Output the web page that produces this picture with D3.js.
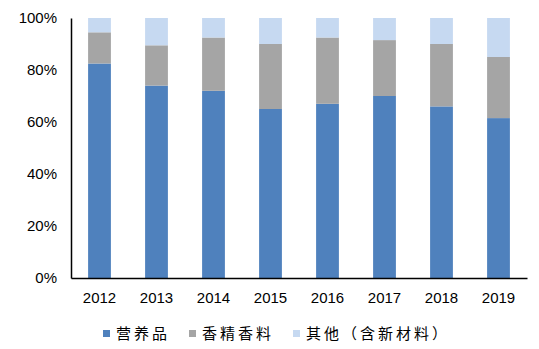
<!DOCTYPE html>
<html>
<head>
<meta charset="utf-8">
<script src="https://cdn.jsdelivr.net/npm/d3@7"></script>
<style>
  body { margin: 0; background: #fff; }
  svg { display: block; }
  .tick text { font-family: Arial, "Liberation Sans", sans-serif; font-size: 15px; fill: #000; }
  .legend text { font-family: "Noto Sans CJK SC", serif; font-size: 15px; fill: #000; letter-spacing: 3px; }
</style>
</head>
<body>
<svg id="chart" width="539" height="349"></svg>
<script>
// data (percent share per year)
const years = ["2012", "2013", "2014", "2015", "2016", "2017", "2018", "2019"];
const nutrition = [82.5, 74, 72, 65, 67, 70, 66, 61.5];
const flavors = [12, 15.5, 20.5, 25, 25.5, 21.5, 24, 23.5];
const others = [5.5, 10.5, 7.5, 10, 7.5, 8.5, 10, 15];
const seriesNames = ["营养品", "香精香料", "其他（含新材料）"];
const yTicks = [0, 20, 40, 60, 80, 100];

const colors = ["#4f81bd", "#a5a5a5", "#c6d9f1"];

const svg = d3.select("#chart");
const margin = { top: 18, right: 12, bottom: 71, left: 71 };
const width = 539 - margin.left - margin.right;
const height = 349 - margin.top - margin.bottom;

const g = svg.append("g")
  .attr("transform", `translate(${margin.left},${margin.top})`);

const rows = years.map((y, i) => ({
  year: y,
  a: nutrition[i],
  b: flavors[i],
  c: others[i]
}));

const stack = d3.stack().keys(["a", "b", "c"]);
const layers = stack(rows);

const x = d3.scaleBand()
  .domain(years)
  .range([0, width])
  .paddingInner(0.6)
  .paddingOuter(0.3);

const y = d3.scaleLinear()
  .domain([0, 100])
  .range([height, 0]);

g.selectAll("g.layer")
  .data(layers)
  .join("g")
  .attr("class", "layer")
  .attr("fill", (d, i) => colors[i])
  .selectAll("rect")
  .data(d => d)
  .join("rect")
  .attr("x", d => x(d.data.year))
  .attr("width", x.bandwidth())
  .attr("y", d => y(d[1]))
  .attr("height", d => y(d[0]) - y(d[1]));

// y axis
const yAxis = g.append("g")
  .call(d3.axisLeft(y).tickValues(yTicks).tickFormat(d => d + "%").tickSize(0).tickPadding(14));
yAxis.select(".domain").attr("stroke", "#000").attr("stroke-width", 1.5);

// x axis
const xAxis = g.append("g")
  .attr("transform", `translate(0,${height})`)
  .call(d3.axisBottom(x).tickSize(0).tickPadding(14));
xAxis.select(".domain").attr("stroke", "#000").attr("stroke-width", 1.5);

// legend
const legendX = [103, 189, 293];
const legend = svg.append("g").attr("class", "legend");
seriesNames.forEach((name, i) => {
  const item = legend.append("g").attr("transform", `translate(${legendX[i]},334)`);
  item.append("rect")
    .attr("x", 0).attr("y", -4)
    .attr("width", 7).attr("height", 7)
    .attr("fill", colors[i]);
  item.append("text")
    .attr("x", 13)
    .attr("dy", "0.35em")
    .text(name);
});
</script>
</body>
</html>
